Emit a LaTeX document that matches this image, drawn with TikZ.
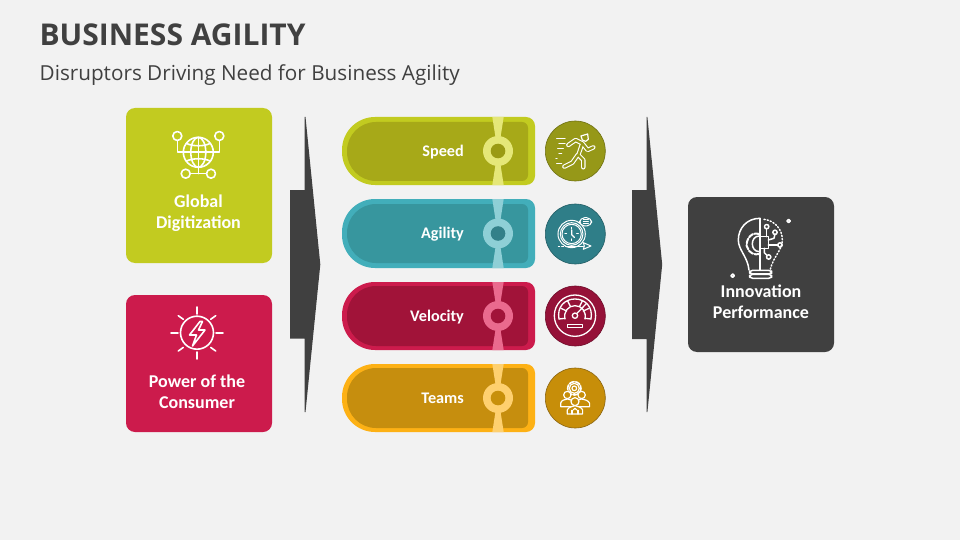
\documentclass[tikz,border=0pt]{standalone}
\usepackage{fontspec}
\setmainfont{Carlito}
\newfontfamily\headfont{Open Sans}
\definecolor{bgc}{HTML}{F2F2F2}
\definecolor{dark}{HTML}{404040}
\definecolor{limeO}{HTML}{C2CB20}\definecolor{limeI}{HTML}{A7A918}\definecolor{limeR}{HTML}{E5E778}\definecolor{limeH}{HTML}{9A9A14}\definecolor{limeC}{HTML}{969818}\definecolor{limeE}{HTML}{6E7012}
\definecolor{tealO}{HTML}{42AEBA}\definecolor{tealI}{HTML}{37969E}\definecolor{tealR}{HTML}{8ECFD6}\definecolor{tealH}{HTML}{338089}\definecolor{tealC}{HTML}{2F7E88}\definecolor{tealE}{HTML}{225C64}
\definecolor{redO}{HTML}{CC1B4C}\definecolor{redI}{HTML}{A11339}\definecolor{redR}{HTML}{EA6A8E}\definecolor{redH}{HTML}{A11339}\definecolor{redC}{HTML}{951138}\definecolor{redE}{HTML}{6E0D2A}
\definecolor{ambO}{HTML}{FDB115}\definecolor{ambI}{HTML}{C68E0E}\definecolor{ambR}{HTML}{FED06F}\definecolor{ambH}{HTML}{C8900B}\definecolor{ambC}{HTML}{C78E09}\definecolor{ambE}{HTML}{8A6410}
\tikzset{
 card/.style={rounded corners=9pt,minimum width=146pt,inner sep=0pt,outer sep=0pt},
 cardtext/.style={text=white,font=\bfseries\fontsize{18}{21}\selectfont,align=center,inner sep=0pt},
 pilltext/.style={text=white,font=\bfseries\fontsize{16.2}{20}\selectfont,anchor=east,inner sep=0pt},
 ico/.style={draw=white,line width=1.3pt,line join=round,line cap=round},
 badge/.style={circle,minimum size=60pt,inner sep=0pt,line width=.6pt},
}
% #1 prefix, #2 outer top, #3 outer bottom, #4 inner top, #5 inner bottom, #6 centre y, #7 label, #8 node name
\newcommand{\pillrow}[8]{%
 \fill[#1O,rounded corners=9pt] (420,#2) -- (535,#2) -- (535,#3) -- (420,#3) [rounded corners=33pt] -- (342,#3) -- (342,#2) -- cycle;
 \fill[#1I,rounded corners=6pt] (420,#4) -- (528,#4) -- (528,#5) -- (420,#5) [rounded corners=29pt] -- (347,#5) -- (347,#4) -- cycle;
 \fill[#1R] (492.3,#2) -- (503.7,#2) -- (500.4,#6-13) -- (495.6,#6-13) -- cycle;
 \fill[#1R] (492.3,#3) -- (503.7,#3) -- (500.4,#6+13) -- (495.6,#6+13) -- cycle;
 \fill[#1R] (498,#6) circle[radius=15pt];
 \fill[#1H] (498,#6) circle[radius=7.3pt];
 \node[pilltext] (#8) at (464,#6+0.8) {#7};
}
\begin{document}
\begin{tikzpicture}[x=1pt,y=-1pt]
\useasboundingbox (0,0) rectangle (960,540);
\fill[bgc] (0,0) rectangle (960,540);
\node[anchor=base west,inner sep=0pt,text=dark,font=\headfont\bfseries\fontsize{30}{36}\selectfont] (title) at (39.3,46) {BUSINESS AGILITY};
\node[anchor=base west,inner sep=0pt,text=dark,font=\headfont\fontsize{20.7}{24}\selectfont] (subtitle) at (39.5,81) {Disruptors Driving Need for Business Agility};

% cards
\node[card,fill=limeO,minimum height=155pt] (global) at (199,185.5) {};
\node[card,fill=redO,minimum height=137pt] (power) at (199,363.5) {};
\node[card,fill=dark,minimum height=155pt] (innov) at (761,274.5) {};
\node[cardtext] (globalT) at (198.5,212.8) {Global\\Digitization};
\node[cardtext] (powerT) at (197,392) {Power of the\\Consumer};
\node[cardtext] (innovT) at (761,302) {Innovation\\Performance};

% big arrows
\fill[dark] (304.7,117) -- (305.5,117) -- (320.3,264.5) -- (305.5,412) -- (304.7,412) -- (304.7,338.5) -- (290,338.5) -- (290,190) -- (304.7,190) -- cycle;
\fill[dark] (646.6,117) -- (647.4,117) -- (662.2,264.5) -- (647.4,412) -- (646.6,412) -- (646.6,339) -- (632,339) -- (632,190) -- (646.6,190) -- cycle;

% pills
\pillrow{lime}{117}{185}{122}{181}{151}{Speed}{speed}
\pillrow{teal}{199}{268}{204}{263}{233.5}{Agility}{agility}
\pillrow{red}{282}{350}{286}{346}{316}{Velocity}{velocity}
\pillrow{amb}{364}{432}{368}{428}{398}{Teams}{teams}

% badges
\node[badge,fill=limeC,draw=limeE] (b1) at (575.3,151) {};
\node[badge,fill=tealC,draw=tealE] (b2) at (575.3,234) {};
\node[badge,fill=redC,draw=redE] (b3) at (575.3,316) {};
\node[badge,fill=ambC,draw=ambE] (b4) at (575.3,398) {};

% globe icon
\begin{scope}[ico,line width=1.6pt]
 \draw (198.3,152.3) circle[radius=15pt];
 \draw (198.3,152.3) ellipse[x radius=7.5pt,y radius=15pt];
 \draw (198.3,137.3) -- (198.3,167.3);
 \draw (183.3,152.3) -- (213.3,152.3);
 \draw (186.5,143.5) .. controls (193,146.5) and (204,146.5) .. (210,143.5);
 \draw (186.5,161) .. controls (193,158) and (204,158) .. (210,161);
 \draw (177.3,136) circle[radius=4.5pt];
 \draw (219.3,136) circle[radius=4.5pt];
 \draw (185.7,173.7) circle[radius=4.5pt];
 \draw (211,173.7) circle[radius=4.5pt];
 \draw (177.3,140.5) -- (177.3,152.3) -- (183.3,152.3);
 \draw (219.3,140.5) -- (219.3,152.3) -- (213.3,152.3);
 \draw (198.3,167.3) -- (198.3,173.7);
 \draw (190.2,173.7) -- (206.5,173.7);
\end{scope}

% sun / bolt icon
\begin{scope}[ico,line width=1.6pt]
 \draw (197,332.7) circle[radius=16.5pt];
 \draw (197,307) -- (197,314);
 \draw (197,352) -- (197,359);
 \draw (171,332.7) -- (178,332.7);
 \draw (216,332.7) -- (223,332.7);
 \draw (178.3,315.7) -- (183.3,319.3);
 \draw (215.7,315.7) -- (210.7,319.3);
 \draw (178.3,351) -- (183.3,347.4);
 \draw (215.7,351) -- (210.7,347.4);
 \draw (200,321.5) -- (189.5,335) -- (196.5,335) -- (192.5,346) -- (205,330) -- (198.5,330) -- (202.5,321.5) -- cycle;
\end{scope}

% runner icon
\begin{scope}[shift={(335,110)},x=.3333pt,y=-.3333pt,ico]
 \draw[line width=4.4pt] (700,105) -- (722,90) -- (742,100) -- (730,135) -- (745,150) -- (745,172);
 \draw[line width=4.4pt] (742,100) -- (758,120) -- (775,112);
 \draw[line width=4.4pt] (728,135) -- (712,158) -- (688,170);
 \draw[limeC,line width=2.2pt] (700,105) -- (722,90) -- (742,100) -- (730,135) -- (745,150) -- (745,172);
 \draw[limeC,line width=2.2pt] (742,100) -- (758,120) -- (775,112);
 \draw[limeC,line width=2.2pt] (728,135) -- (712,158) -- (688,170);
 \draw[fill=limeC,line width=1.2pt] (738,78) -- (758,72) -- (760,88) -- (752,94) -- (742,90) -- cycle;
 \draw (665,85) -- (690,85);
 \draw (672,100) -- (690,100);
 \draw (668,115) -- (685,115);
 \draw (672,130) -- (680,130);
 \draw (663,145) -- (666,145);
 \draw (665,160) -- (680,160);
\end{scope}

% clock icon
\begin{scope}[shift={(335,110)},x=.3333pt,y=-.3333pt,ico,line width=1pt]
 \draw (710,372) circle[radius=41];
 \draw (710,372) circle[radius=34];
 \draw (710,372) circle[radius=29];
 \draw (710,352) -- (710,357);
 \draw (710,387) -- (710,392);
 \draw (690,372) -- (695,372);
 \draw (725,372) -- (730,372);
 \draw[line width=1.3pt] (710,360) -- (710,374) -- (718,382);
 \draw[fill=tealC,rounded corners=5pt] (734,323) -- (770,323) -- (770,348) -- (734,348) -- cycle;
 \draw (745,330) -- (760,330);
 \draw (745,336) -- (760,336);
 \draw (745,342) -- (760,342);
 \draw (692,411) -- (745,411);
 \draw (670,411) -- (674,411);
 \draw (680,411) -- (686,411);
 \draw (745,398) -- (768,408) -- (745,418) -- (748,408) -- cycle;
\end{scope}

% speedometer icon
\begin{scope}[shift={(335,275)},x=.3333pt,y=-.3333pt,ico,line width=1.3pt]
 \draw (720,122) circle[radius=62];
 \draw (672,132) .. controls (665,95) and (690,72) .. (720,72) .. controls (750,72) and (775,95) .. (768,132);
 \draw (690,132) .. controls (685,110) and (700,92) .. (720,92) .. controls (740,92) and (755,110) .. (750,132);
 \draw (672,132) -- (690,130);
 \draw (768,132) -- (750,130);
 \draw (678,100) -- (695,108);
 \draw (698,78) -- (706,94);
 \draw (742,78) -- (734,94);
 \draw (762,100) -- (745,108);
 \draw (720,122) circle[radius=8];
 \draw (725,116) -- (755,85);
 \draw (697,148) rectangle (742,157);
\end{scope}

% team icon
\begin{scope}[shift={(335,275)},x=.3333pt,y=-.3333pt,ico,line width=1.2pt]
 \draw[dash pattern=on 5pt off 1.5pt,line width=1.6pt] (718,340) circle[radius=20];
 \draw (718,340) circle[radius=15];
 \draw (718,340) circle[radius=7];
 \draw[fill=ambC] (697,360) circle[radius=11];
 \draw[fill=ambC] (740,360) circle[radius=11];
 \draw[fill=ambC] (677,395) -- (677,385) .. controls (678,375) and (690,374) .. (697,372) .. controls (704,374) and (716,375) .. (717,385) -- (717,395) -- cycle;
 \draw[fill=ambC] (720,395) -- (720,385) .. controls (722,375) and (734,374) .. (740,372) .. controls (747,374) and (760,375) .. (764,385) -- (764,395) -- cycle;
 \draw[fill=ambC] (720,380) circle[radius=12];
 \draw[fill=ambC] (697,417) -- (697,405) .. controls (700,396) and (712,395) .. (720,392) .. controls (728,395) and (740,396) .. (743,405) -- (743,417) -- cycle;
 \draw (711,417) -- (711,406);
 \draw (729,417) -- (729,406);
 \draw (720,400) -- (715,405);
 \draw (720,400) -- (725,405);
\end{scope}

% bulb icon
\begin{scope}[shift={(625,110)},x=.3333pt,y=-.3333pt,ico,line width=1.5pt]
 \draw (405,325) .. controls (365,325) and (340,355) .. (340,390) .. controls (340,420) and (368,440) .. (372,480);
 \draw (405,325) -- (405,480);
 \draw[rounded corners=3pt] (374,481) rectangle (440,492);
 \draw[rounded corners=3pt] (374,493) rectangle (440,505);
 \draw[dash pattern=on 1.2pt off 2pt,line width=1.5pt] (417,328) .. controls (450,332) and (472,358) .. (472,390) .. controls (472,420) and (445,440) .. (436,478);
 \draw[dash pattern=on 5pt off 1.5pt,line width=2pt] (403,372) .. controls (370,362) and (360,405) .. (367,412) .. controls (372,430) and (390,436) .. (403,432);
 \draw (403,378) .. controls (375,378) and (375,425) .. (403,425);
 \draw (405,380) rectangle (430,415);
 \draw (425,356) -- (425,380);
 \draw (430,390) -- (447,385) -- (450,372);
 \draw (430,405) -- (459,405);
 \draw (418,415) -- (418,428) -- (426,436);
 \draw (425,350) circle[radius=6.5];
 \draw (450,367) circle[radius=6.5];
 \draw (465,405) circle[radius=6.5];
 \draw (431,441) circle[radius=6.5];
 \draw[line width=1.6pt] (491,328) -- (496,333) -- (491,338) -- (486,333) -- cycle;
 \draw[line width=1.6pt] (323,492) -- (328,497) -- (323,502) -- (318,497) -- cycle;
\end{scope}
\end{tikzpicture}
\end{document}
